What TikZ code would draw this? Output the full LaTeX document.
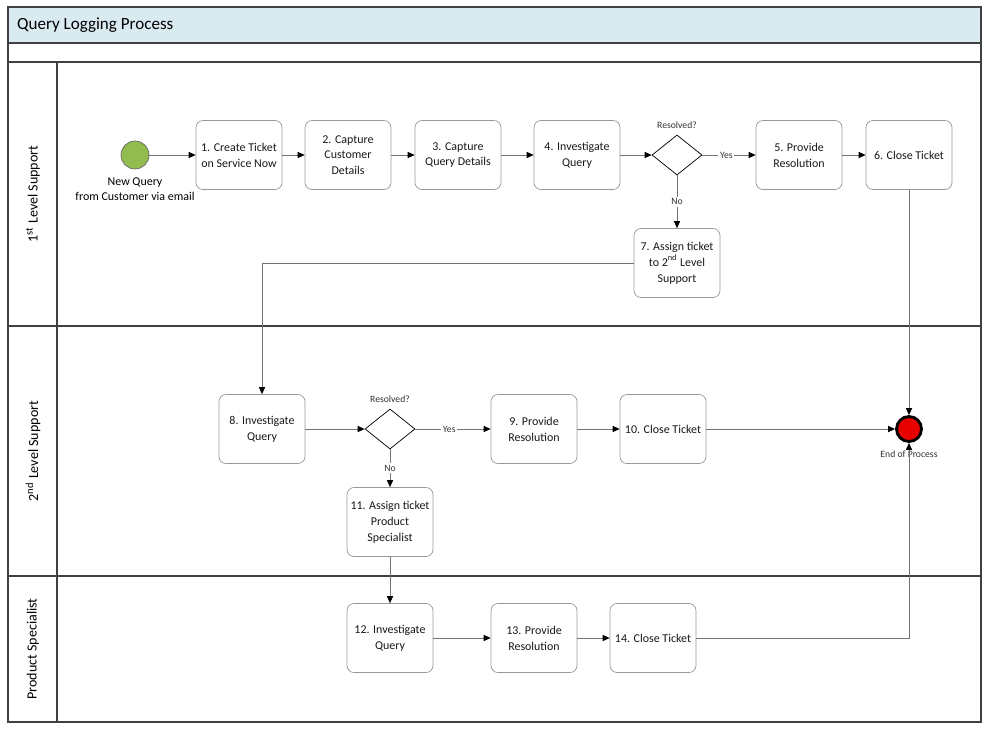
\documentclass[tikz,border=0pt]{standalone}
\usepackage{fontspec}
\setmainfont{Carlito}
\usetikzlibrary{arrows.meta,positioning,shapes.geometric}
\definecolor{titleblue}{RGB}{218,234,241}
\definecolor{startgreen}{RGB}{146,188,78}
\definecolor{endred}{RGB}{232,0,0}

\begin{document}
\begin{tikzpicture}[
    task/.style={
        rectangle, rounded corners=4pt,
        draw=black!40, fill=white,
        text=black!90,
        font=\fontsize{6.8}{9}\selectfont,
        align=center,
        minimum width=1.72cm,
        minimum height=1.38cm,
        inner sep=2pt,
    },
    decision/.style={
        diamond, draw=black, fill=white,
        minimum width=1.0cm, minimum height=0.8cm,
        inner sep=0pt,
    },
    flow/.style={
        -{Triangle[length=4pt,width=3.5pt,black]}, draw=black!55, line width=0.5pt,
    },
    lane/.style={
        draw=black!75, line width=0.8pt,
    },
    small/.style={
        font=\fontsize{5.5}{6.5}\selectfont, text=black!80,
    },
    tag/.style={
        small, fill=white, inner sep=1pt, midway,
    },
]
\useasboundingbox (0,0) rectangle (20,-15);

% pool and lanes
\fill[titleblue] (0.16,-0.14) rectangle (19.62,-0.86);
\draw[lane] (0.16,-0.14) rectangle (19.62,-14.44);
\draw[lane] (0.16,-0.86) -- (19.62,-0.86);
\draw[lane] (0.16,-1.24) -- (19.62,-1.24);
\draw[lane] (0.16,-6.52) -- (19.62,-6.52);
\draw[lane] (0.16,-11.52) -- (19.62,-11.52);
\draw[lane] (1.14,-1.24) -- (1.14,-14.44);

\node[anchor=west, font=\fontsize{9.7}{11}\selectfont] (title) at (0.22,-0.50) {Query Logging Process};
\node[rotate=90, font=\fontsize{8}{10}\selectfont] (laneA) at (0.66,-3.88) {1\textsuperscript{st} Level Support};
\node[rotate=90, font=\fontsize{8}{10}\selectfont] (laneB) at (0.66,-9.02) {2\textsuperscript{nd} Level Support};
\node[rotate=90, font=\fontsize{8}{10}\selectfont] (laneC) at (0.66,-12.98) {Product Specialist};

% 1st level support
\node[circle, draw=black!60, fill=startgreen, minimum size=0.56cm, inner sep=0pt] (start) at (2.70,-3.10) {};
\node[below=1pt of start, font=\fontsize{6.8}{8.6}\selectfont, align=center] (startlbl) {New Query\\from Customer via email};
\node[task] (t1) at (4.78,-3.10) {1. Create Ticket\\on Service Now};
\node[task] (t2) at (6.96,-3.10) {2. Capture\\Customer\\Details};
\node[task] (t3) at (9.16,-3.10) {3. Capture\\Query Details};
\node[task] (t4) at (11.54,-3.10) {4. Investigate\\Query};
\node[decision] (d1) at (13.54,-3.10) {};
\node[small, above=0pt of d1] (d1lbl) {Resolved?};
\node[task] (t5) at (15.98,-3.10) {5. Provide\\Resolution};
\node[task] (t6) at (18.18,-3.10) {6. Close Ticket};
\node[task] (t7) at (13.54,-5.26) {7. Assign ticket\\to 2\textsuperscript{nd} Level\\Support};

% 2nd level support
\node[task] (t8) at (5.24,-8.58) {8. Investigate\\Query};
\node[decision] (d2) at (7.80,-8.58) {};
\node[small, above=0pt of d2] (d2lbl) {Resolved?};
\node[task] (t9) at (10.68,-8.58) {9. Provide\\Resolution};
\node[task] (t10) at (13.26,-8.58) {10. Close Ticket};
\node[circle, draw=black, line width=1.6pt, fill=endred, minimum size=0.5cm, inner sep=0pt] (end) at (18.18,-8.58) {};
\node[small, below=1pt of end] (endlbl) {End of Process};
\node[task] (t11) at (7.80,-10.44) {11. Assign ticket\\Product\\Specialist};

% product specialist
\node[task] (t12) at (7.80,-12.76) {12. Investigate\\Query};
\node[task] (t13) at (10.68,-12.76) {13. Provide\\Resolution};
\node[task] (t14) at (13.06,-12.76) {14. Close Ticket};

% connectors
\draw[flow] (start) -- (t1);
\draw[flow] (t1) -- (t2);
\draw[flow] (t2) -- (t3);
\draw[flow] (t3) -- (t4);
\draw[flow] (t4) -- (d1);
\draw[flow] (d1) -- (t5) node[tag, pos=0.45] {Yes};
\draw[flow] (t5) -- (t6);
\draw[flow] (d1) -- (t7) node[tag] {No};
\draw[flow] (t7.west) -| (t8.north);
\draw[flow] (t6) -- (end);

\draw[flow] (t8) -- (d2);
\draw[flow] (d2) -- (t9) node[tag, pos=0.45] {Yes};
\draw[flow] (t9) -- (t10);
\draw[flow] (t10) -- (end);
\draw[flow] (d2) -- (t11) node[tag] {No};
\draw[flow] (t11) -- (t12);

\draw[flow] (t12) -- (t13);
\draw[flow] (t13) -- (t14);
\draw[flow] (t14.east) -| (end.south);

\end{tikzpicture}
\end{document}
